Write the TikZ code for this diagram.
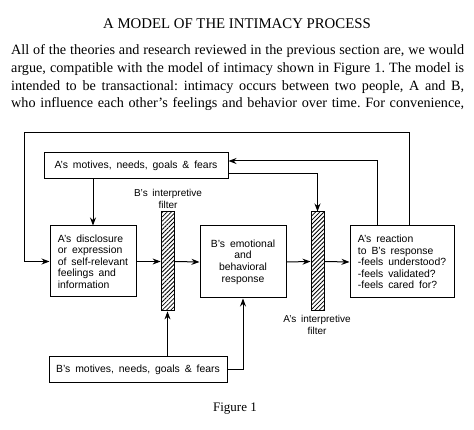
\documentclass[tikz,border=0pt]{standalone}
\usepackage{fontspec}
\setmainfont{Liberation Serif}
\setsansfont{Liberation Sans}[WordSpace=1.7]
\usetikzlibrary{patterns.meta,arrows.meta}
\frenchspacing
\begin{document}
\begin{tikzpicture}[x=1pt,y=-1pt,
  box/.style={draw, line width=1pt, inner sep=0pt, font=\sffamily\fontsize{10.4}{11.6}\selectfont},
  filt/.style={draw, line width=1pt, pattern={Lines[angle=45,distance=3pt,line width=0.8pt]}, minimum width=13pt, minimum height=99pt, inner sep=0pt},
  arr/.style={line width=1pt, -{Stealth[length=8pt,width=6pt]}},
  lbl/.style={font=\sffamily\fontsize{10}{11.5}\selectfont, align=center, inner sep=0pt},
  para/.style={font=\frenchspacing\fontsize{14.2}{18}\selectfont, anchor=base west, inner sep=0pt}
]
\useasboundingbox (0,0) rectangle (474,430);
\node[font=\fontsize{14.8}{16}\selectfont, anchor=base, inner sep=0pt] (title) at (237,29) {A MODEL OF THE INTIMACY PROCESS};
\node[para] (p1) at (11,55) {\makebox[453pt][s]{All of the theories and research reviewed in the previous section are, we would}};
\node[para] (p2) at (11,73) {\makebox[453pt][s]{argue, compatible with the model of intimacy shown in Figure 1. The model is}};
\node[para] (p3) at (11,91) {\makebox[453pt][s]{intended to be transactional: intimacy occurs between two people, A and B,}};
\node[para] (p4) at (11,108) {\makebox[453pt][s]{who influence each other’s feelings and behavior over time. For convenience,}};

\node[box, minimum width=184pt, minimum height=26pt] (motA) at (136,166) {A’s motives, needs, goals \& fears};
\node[box, minimum width=86pt, minimum height=71pt, align=left] (disc) at (93,261.5) {A’s disclosure\\or expression\\of self-relevant\\feelings and\\information};
\node[filt] (filtB) at (167.5,261.5) {};
\node[box, minimum width=86pt, minimum height=72pt, align=center] (emoB) at (243,262) {B’s emotional\\and\\behavioral\\response};
\node[filt] (filtA) at (317.5,261.5) {};
\node[box, minimum width=104pt, minimum height=72pt, align=left] (reactA) at (402,262) {A’s reaction\\to B’s response\\-feels understood?\\-feels validated?\\-feels cared for?};
\node[box, minimum width=178pt, minimum height=25pt] (motB) at (138,369.5) {B’s motives, needs, goals \& fears};

\node[lbl] (lblB) at (168,199) {B’s interpretive\\filter};
\node[lbl] (lblA) at (317,325) {A’s interpretive\\filter};
\node[font=\fontsize{13}{14}\selectfont, anchor=base, inner sep=0pt] (fig) at (235,411) {Figure 1};

\coordinate (tl) at (24,133);
\draw[arr] (motA.south -| disc.north) -- (disc.north);
\draw[arr] (disc.east) -- (filtB.west);
\draw[arr] (filtB.east) -- (emoB.west);
\draw[arr] (emoB.east) -- (filtA.west);
\draw[arr] (filtA.east) -- (reactA.west);
\draw[arr] ([xshift=-25pt]reactA.north) |- ([yshift=5pt]motA.east);
\draw[arr] ([yshift=-8pt]motA.east) -| (filtA.north);
\draw[arr] ([xshift=7pt]reactA.north) |- (tl) |- (disc.west);
\draw[arr] (motB.north -| filtB.south) -- (filtB.south);
\draw[arr] (motB.east) -| (emoB.south);
\end{tikzpicture}
\end{document}
